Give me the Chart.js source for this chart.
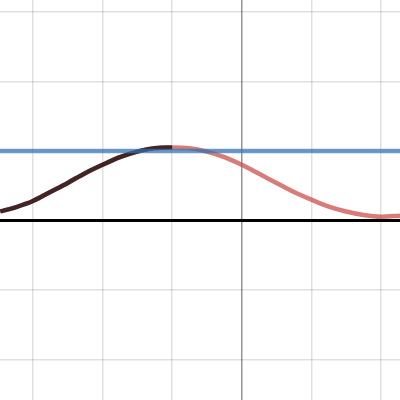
<!DOCTYPE html>
<html>
<head>
<meta charset="utf-8">
<script src="https://cdn.jsdelivr.net/npm/chart.js@4"></script>
<style>
  html, body { margin: 0; padding: 0; background: #fff; }
  #wrap { width: 400px; height: 400px; }
</style>
</head>
<body>
<div id="wrap"><canvas id="graph"></canvas></div>
<script>
// view window (graph units)
const xRange = [-3.473, 2.274];
const yRange = [-2.579, 3.168];

// curve
const curveX = [-3.47, -3.25, -3, -2.75, -2.5, -2.25, -2, -1.75, -1.5, -1.25, -1,
  -0.75, -0.5, -0.25, 0, 0.25, 0.5, 0.75, 1, 1.25, 1.5, 1.75, 2, 2.28];
const curveY = [0.13, 0.19, 0.28, 0.41, 0.54, 0.68, 0.80, 0.91, 0.99, 1.04, 1.05,
  1.04, 0.99, 0.91, 0.80, 0.67, 0.54, 0.41, 0.30, 0.20, 0.13, 0.08, 0.055, 0.07];

// dark part of the curve stops here
const darkEnd = -1;

// horizontal lines
const blueLevel = 1;
const blackLevel = 0;

const curvePts = curveX.map((x, i) => ({ x: x, y: curveY[i] }));
const darkPts = curvePts.filter(p => p.x <= darkEnd);
const flat = v => [{ x: xRange[0], y: v }, { x: xRange[1], y: v }];

const gridColor = ctx => (ctx.tick && ctx.tick.value === 0) ? "rgba(0,0,0,0.42)" : "rgba(0,0,0,0.12)";

new Chart(document.getElementById("graph"), {
  type: "line",
  data: {
    datasets: [
      { data: flat(blueLevel), borderColor: "rgba(45,112,179,0.7)", borderWidth: 4.5, order: 1 },
      { data: darkPts, borderColor: "rgba(0,0,0,0.7)", borderWidth: 4.5, cubicInterpolationMode: "monotone", order: 2 },
      { data: flat(blackLevel), borderColor: "#000", borderWidth: 3, order: 3 },
      { data: curvePts, borderColor: "rgba(199,68,64,0.7)", borderWidth: 4.5, cubicInterpolationMode: "monotone", order: 4 },
    ],
  },
  options: {
    responsive: true,
    maintainAspectRatio: false,
    animation: false,
    layout: { padding: 0 },
    elements: { point: { radius: 0 } },
    plugins: { legend: { display: false }, tooltip: { enabled: false } },
    scales: {
      x: {
        type: "linear",
        min: xRange[0],
        max: xRange[1],
        ticks: { display: false, stepSize: 1, includeBounds: false },
        grid: { color: gridColor, lineWidth: 1.5, drawTicks: false },
        border: { display: false },
      },
      y: {
        type: "linear",
        min: yRange[0],
        max: yRange[1],
        ticks: { display: false, stepSize: 1, includeBounds: false },
        grid: { color: gridColor, lineWidth: 1.5, drawTicks: false },
        border: { display: false },
      },
    },
  },
});
</script>
</body>
</html>
